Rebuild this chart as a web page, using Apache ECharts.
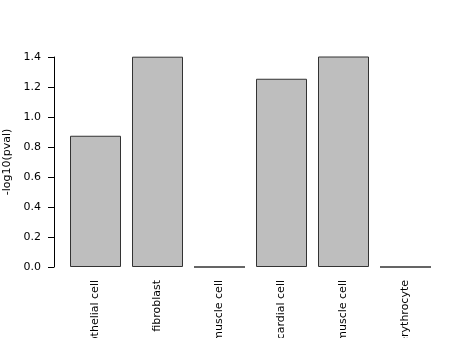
<!DOCTYPE html>
<html><head><meta charset="utf-8">
<script src="https://cdn.jsdelivr.net/npm/echarts@6/dist/echarts.min.js"></script>
<style>html,body{margin:0;padding:0;background:#fff}#c{width:474px;height:338px}</style>
</head><body><div id="c"></div>
<script>
const categories = ["endothelial cell", "fibroblast", "smooth muscle cell", "epicardial cell", "cardiac muscle cell", "erythrocyte"];
const values = [0.875, 1.402, 0, 1.255, 1.411, 0];
const yTicks = [0, 0.2, 0.4, 0.6, 0.8, 1.0, 1.2, 1.4];
const yTitle = "-log10(pval)";

const chart = echarts.init(document.getElementById('c'), null, {renderer: 'canvas'});
chart.setOption({
  animation: false,
  backgroundColor: '#ffffff',
  grid: {left: 64.5, width: 372, top: 57, bottom: 71, containLabel: false, outerBoundsMode: 'none'},
  xAxis: {
    type: 'category', data: categories,
    axisLine: {show: false}, axisTick: {show: false},
    axisLabel: {rotate: 90, margin: 13, color: '#000', fontFamily: 'DejaVu Sans', fontSize: 11, interval: 0,
      padding: [6, 0, 0, 0]}
  },
  yAxis: {
    type: 'value', min: yTicks[0], max: yTicks[yTicks.length - 1], interval: 0.2,
    offset: 10.5,
    name: yTitle, nameLocation: 'middle', nameGap: 37,
    nameTextStyle: {color: '#000', fontFamily: 'DejaVu Sans', fontSize: 11},
    axisLine: {show: true, lineStyle: {color: '#000', width: 1}},
    axisTick: {show: true, length: 6, lineStyle: {color: '#000'}},
    axisLabel: {color: '#000', fontFamily: 'DejaVu Sans', fontSize: 11, margin: 13,
      formatter: v => v.toFixed(1)},
    splitLine: {show: false}
  },
  series: [{
    type: 'bar', data: values, barWidth: 51,
    itemStyle: {color: '#bebebe', borderColor: '#333', borderWidth: 1}
  }]
});
</script></body></html>
